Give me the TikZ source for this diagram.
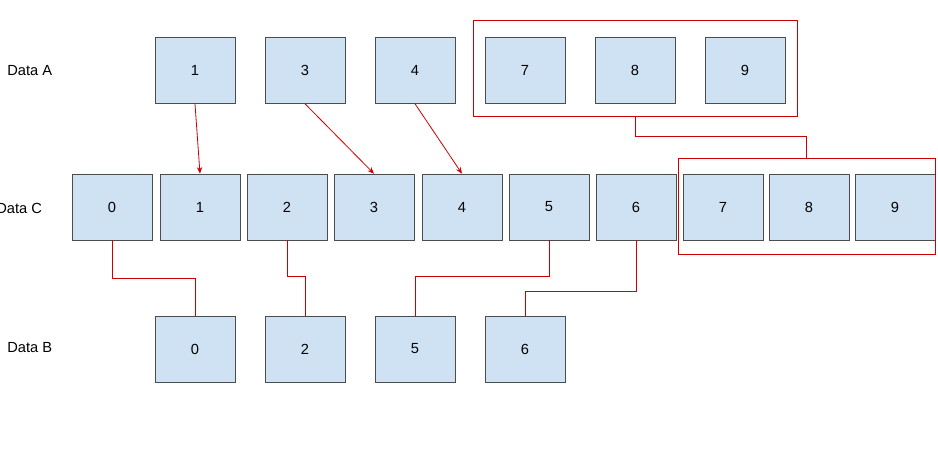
\documentclass[tikz,border=0pt]{standalone}
\usepackage{fontspec}
\setmainfont{Liberation Sans}
\usetikzlibrary{arrows.meta}
\definecolor{bx}{HTML}{CFE2F3}
\definecolor{rd}{HTML}{CC0000}
\begin{document}
\begin{tikzpicture}[x=0.75pt,y=-0.75pt,
  box/.style={draw=black!70,fill=bx,minimum width=60pt,minimum height=49.5pt,inner sep=0pt,font=\fontsize{11}{13}\selectfont},
  lab/.style={font=\fontsize{11}{13}\selectfont,anchor=west,inner sep=0pt},
  con/.style={draw=rd,line width=0.6pt},
  arr/.style={con,-{Stealth[length=5pt,width=4pt]}}]
\useasboundingbox[fill=white] (0,0) rectangle (938,456);
\node[lab] (la) at (7,71) {Data A};
\node[lab] (lc) at (-4,208) {Data C};
\node[lab] (lb) at (7,348) {Data B};
% row A
\foreach \n/\x in {1/195,3/305,4/415,7/525,8/635,9/745}
  \node[box] (a\n) at (\x,70.5) {\n};
% row C
\foreach \n/\x in {0/112,1/200,2/287,3/374,4/462,5/549,6/636,7/723,8/809,9/895}
  \node[box] (c\n) at (\x,207) {\n};
% row B
\foreach \n/\x in {0/195,2/305,5/415,6/525}
  \node[box] (b\n) at (\x,349) {\n};
% red groups
\node[draw=rd,line width=0.6pt,minimum width=243pt,minimum height=72pt,inner sep=0pt] (ga) at (635,68) {};
\node[draw=rd,line width=0.6pt,minimum width=192.75pt,minimum height=72pt,inner sep=0pt] (gc) at (806.5,206) {};
% arrows
\draw[arr] (a1.south) -- (c1.north);
\draw[arr] (a3.south) -- (c3.north);
\draw[arr] (a4.south) -- (c4.north);
\draw[con] (ga.south) -- ++(0,20) -| (gc.north);
\draw[con] (c0.south) -- ++(0,38) -| (b0.north);
\draw[con] (c2.south) -- ++(0,36) -| (b2.north);
\draw[con] (c5.south) -- ++(0,36) -| (b5.north);
\draw[con] (c6.south) -- ++(0,51) -| (b6.north);
\end{tikzpicture}
\end{document}
